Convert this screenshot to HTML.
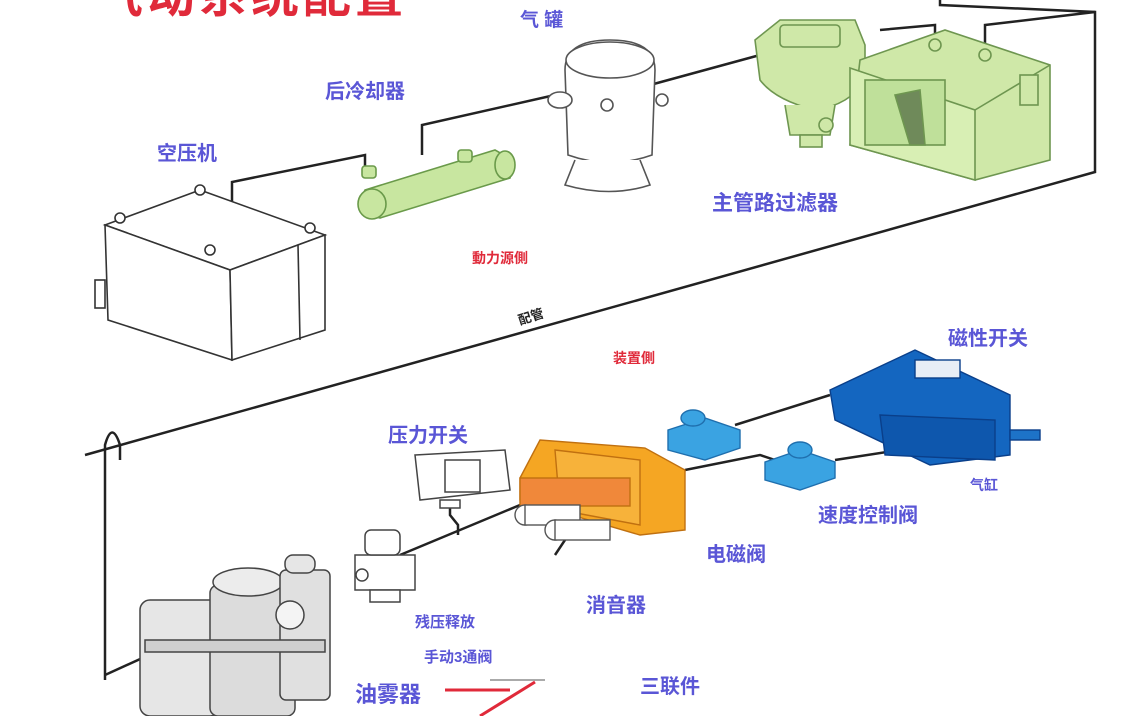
<!DOCTYPE html>
<html><head><meta charset="utf-8"><style>
html,body{margin:0;padding:0;background:#fff;}
svg{display:block;}
text{font-family:"Liberation Sans","Noto Sans CJK SC",sans-serif;font-weight:bold;}
.b{fill:#5a56d6;}
.r{fill:#e02a3a;}
</style></head><body>
<svg width="1146" height="716" viewBox="0 0 1146 716" xmlns="http://www.w3.org/2000/svg">
<rect width="1146" height="716" fill="#fff"/>
<!-- title -->
<text x="95" y="12" class="r" font-size="48" letter-spacing="4">气动系统配置</text>
<!-- main pipe -->
<g fill="none" stroke="#222" stroke-width="2.5">
<polyline points="940,0 940,5 1095,12 1095,172 85,455"/>
<polyline points="232,208 232,182 365,155 365,170"/>
<polyline points="422,155 422,125 555,95"/>
<polyline points="650,85 760,55"/>
<polyline points="880,30 935,25 935,40"/>
<polyline points="985,50 985,25 1095,12"/>
<path d="M105,680 L105,445 Q112,420 120,445 L120,460"/>
<polyline points="105,675 160,650"/>
<polyline points="400,555 520,505"/>
<polyline points="450,500 450,515 458,525 458,535"/>
<polyline points="685,470 760,455 790,465"/>
<polyline points="735,425 830,395"/>
<polyline points="835,460 900,450"/>
<polyline points="555,555 565,540 570,520 580,518"/>
</g>
<!-- compressor -->
<g fill="#fff" stroke="#333" stroke-width="1.6">
<polygon points="105,225 200,190 325,235 230,270"/>
<polygon points="105,225 230,270 232,360 108,320"/>
<polygon points="230,270 325,235 325,330 232,360"/>
<line x1="298" y1="245" x2="300" y2="340"/>
<rect x="95" y="280" width="10" height="28"/>
<circle cx="200" cy="190" r="5"/><circle cx="120" cy="218" r="5"/><circle cx="310" cy="228" r="5"/><circle cx="210" cy="250" r="5"/>
</g>
<!-- aftercooler -->
<g fill="#c8e6a0" stroke="#6a9a4a" stroke-width="1.6">
<path d="M365,190 L495,150 Q515,160 510,178 L380,218 Q355,212 365,190Z"/>
<ellipse cx="372" cy="204" rx="14" ry="15"/>
<rect x="362" y="166" width="14" height="12" rx="3"/>
<rect x="458" y="150" width="14" height="12" rx="3"/>
<ellipse cx="505" cy="165" rx="10" ry="14"/>
</g>
<!-- tank -->
<g fill="#fff" stroke="#555" stroke-width="1.6">
<path d="M565,70 Q565,40 610,40 Q655,40 655,70 L652,155 Q610,170 568,155Z"/>
<ellipse cx="610" cy="60" rx="44" ry="18"/>
<path d="M575,160 L565,185 Q610,198 650,185 L640,160"/>
<ellipse cx="560" cy="100" rx="12" ry="8"/>
<circle cx="607" cy="105" r="6"/>
<circle cx="662" cy="100" r="6"/>
</g>
<!-- main filter -->
<g fill="#cfe8a8" stroke="#6e9650" stroke-width="1.6">
<path d="M755,40 L780,20 L855,20 L865,45 L865,80 Q850,105 815,110 Q775,100 760,80Z"/>
<rect x="780" y="25" width="60" height="22" rx="4"/>
<path d="M785,105 L790,135 L830,135 L835,105"/>
<rect x="800" y="135" width="22" height="12"/>
<circle cx="826" cy="125" r="7"/>
</g>
<!-- dryer -->
<g fill="#cfe8a8" stroke="#6e9650" stroke-width="1.6">
<polygon points="860,60 945,30 1050,65 1050,160 975,180 850,145"/>
<polygon points="850,68 975,110 975,180 850,145" fill="#d8efb4"/>
<line x1="975" y1="110" x2="1050" y2="65"/>
<rect x="865" y="80" width="80" height="65" fill="#bfe09a"/>
<polygon points="895,95 920,90 925,145 910,145" fill="#6f8a5a"/>
<rect x="1020" y="75" width="18" height="30"/>
<circle cx="935" cy="45" r="6"/><circle cx="985" cy="55" r="6"/>
</g>
<!-- labels top -->
<text x="520" y="26" class="b" font-size="19">气 罐</text>
<text x="325" y="98" class="b" font-size="20">后冷却器</text>
<text x="157" y="160" class="b" font-size="20">空压机</text>
<text x="712" y="210" class="b" font-size="21">主管路过滤器</text>
<text x="472" y="263" class="r" font-size="14">動力源側</text>
<text x="520" y="325" fill="#222" font-size="13" transform="rotate(-18 520 325)">配管</text>
<text x="613" y="363" class="r" font-size="14">装置側</text>
<!-- cylinder -->
<g stroke="#0a3f8a" stroke-width="1.4">
<polygon points="830,390 915,350 1010,395 1010,455 930,465 835,420" fill="#1466c0"/>
<polygon points="880,415 995,420 995,460 885,455" fill="#0e57ad"/>
<rect x="915" y="360" width="45" height="18" fill="#e8eef6"/>
<rect x="1010" y="430" width="30" height="10" fill="#1d73c8"/>
</g>
<!-- speed valves -->
<g fill="#3aa3e2" stroke="#1f6fae" stroke-width="1.4">
<polygon points="668,430 705,418 740,430 740,448 705,460 668,450"/>
<ellipse cx="693" cy="418" rx="12" ry="8"/>
<polygon points="765,462 800,450 835,462 835,478 800,490 765,480"/>
<ellipse cx="800" cy="450" rx="12" ry="8"/>
</g>
<!-- solenoid valve -->
<g stroke="#c07010" stroke-width="1.4">
<polygon points="520,478 540,440 645,448 685,470 685,530 640,535 520,500" fill="#f5a623"/>
<polygon points="555,450 640,460 640,525 560,510" fill="#f7b23a"/>
<rect x="520" y="478" width="110" height="28" fill="#f0883a"/>
</g>
<g fill="#fff" stroke="#555" stroke-width="1.4">
<ellipse cx="525" cy="515" rx="10" ry="10"/><rect x="525" y="505" width="55" height="20"/>
<ellipse cx="555" cy="530" rx="10" ry="10"/><rect x="555" y="520" width="55" height="20"/>
</g>
<!-- pressure switch -->
<g fill="#fff" stroke="#444" stroke-width="1.5">
<polygon points="415,455 505,450 510,490 420,500"/>
<rect x="445" y="460" width="35" height="32"/>
<rect x="440" y="500" width="20" height="8"/>
</g>
<!-- 3-way valve -->
<g fill="#fff" stroke="#444" stroke-width="1.5">
<rect x="355" y="555" width="60" height="35"/>
<rect x="365" y="530" width="35" height="25" rx="6"/>
<rect x="370" y="590" width="30" height="12"/>
<circle cx="362" cy="575" r="6"/>
</g>
<!-- FRL -->
<g fill="#e6e6e6" stroke="#444" stroke-width="1.5">
<rect x="140" y="600" width="80" height="116" rx="10"/>
<rect x="210" y="585" width="85" height="131" rx="8" fill="#dcdcdc"/>
<ellipse cx="248" cy="582" rx="35" ry="14" fill="#ececec"/>
<rect x="280" y="570" width="50" height="130" rx="6" fill="#e0e0e0"/>
<rect x="285" y="555" width="30" height="18" rx="8"/>
<circle cx="290" cy="615" r="14" fill="#f4f4f4"/>
<rect x="145" y="640" width="180" height="12" fill="#cfcfcf"/>
</g>
<!-- labels bottom -->
<text x="948" y="345" class="b" font-size="20">磁性开关</text>
<text x="388" y="442" class="b" font-size="20">压力开关</text>
<text x="970" y="490" class="b" font-size="14">气缸</text>
<text x="818" y="522" class="b" font-size="20">速度控制阀</text>
<text x="706" y="561" class="b" font-size="20">电磁阀</text>
<text x="586" y="612" class="b" font-size="20">消音器</text>
<text x="415" y="627" class="b" font-size="15">残压释放</text>
<text x="424" y="662" class="b" font-size="15">手动3通阀</text>
<text x="355" y="702" class="b" font-size="22">油雾器</text>
<text x="640" y="693" class="b" font-size="20">三联件</text>
<g stroke="#e02a3a" stroke-width="3" fill="none">
<line x1="445" y1="690" x2="510" y2="690"/>
<line x1="535" y1="682" x2="480" y2="716"/>
</g>
<line x1="490" y1="680" x2="545" y2="680" stroke="#555" stroke-width="1"/>
</svg>
</body></html>
